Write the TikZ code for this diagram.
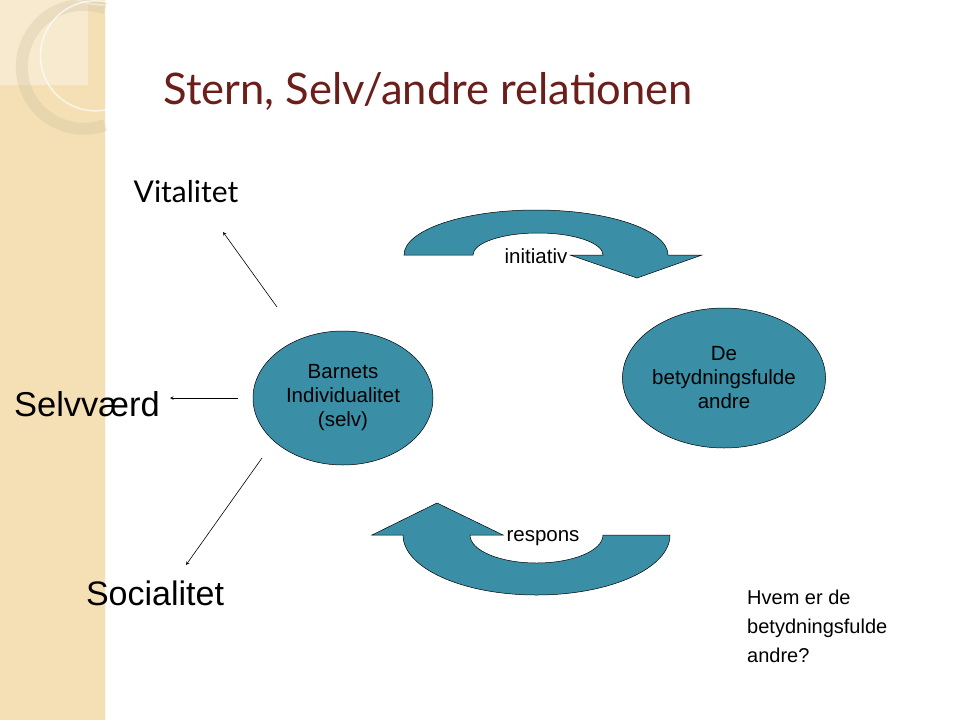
\documentclass[tikz,border=0pt]{standalone}
\usepackage{fontspec}
\usetikzlibrary{shapes.geometric}
\setmainfont{Liberation Sans}
\newfontfamily\gill{Lato}
\begin{document}
\begin{tikzpicture}[x=1pt,y=-1pt,
  blob/.style={fill=teal0,draw=black,line width=0.5pt},
  lbl/.style={font=\fontsize{20.5}{24}\selectfont},
  big/.style={font=\gill\fontsize{30}{34}\selectfont},
  arr/.style={->,>=stealth,line width=0.6pt}]
\definecolor{teal0}{HTML}{3A8FA6}
\definecolor{beige}{HTML}{F4E0B4}
\definecolor{titlered}{HTML}{6B1E1A}
\useasboundingbox (0,0) rectangle (960,720);
\fill[white] (0,0) rectangle (960,720);
\fill[beige] (0,0) rectangle (105,720);
\draw[white!80!beige,line width=1pt] (105,0) -- (105,720);
\fill[white,opacity=0.35] (0,0) rectangle (88,85);
\draw[white,line width=2pt,opacity=0.8] (105,5) arc[start angle=90,end angle=250,radius=78];
\draw[beige!70!gray,line width=12pt,opacity=0.35] (105,125) arc[start angle=70,end angle=290,radius=62];
\draw[white,line width=1.5pt,opacity=0.7] (105,110) arc[start angle=80,end angle=280,radius=55];
% title
\node[anchor=base west,text=titlered,font=\gill\fontsize{43.5}{50}\selectfont] (title) at (160,104) {Stern, Selv/andre relationen};
% ellipses
\node[blob,ellipse,minimum width=180,minimum height=134,inner sep=0,align=center,lbl] (selv) at (343,398)
 {Barnets\\Individualitet\\(selv)};
\node[blob,ellipse,minimum width=172,minimum height=140,inner sep=0,align=center,lbl] (andre) at (724,378)
 {De\\betydningsfulde\\andre};
% top arrow
\draw[blob] (404,255) arc[start angle=180,end angle=360,x radius=132,y radius=45]
  -- (702,255) -- (637,278) -- (570,255) -- (603,255)
  arc[start angle=360,end angle=180,x radius=65,y radius=22] -- cycle;
\node[lbl,anchor=base] (ini) at (536,263) {initiativ};
% bottom arrow
\draw[blob] (670,535) arc[start angle=0,end angle=180,x radius=133.5,y radius=60]
  -- (372,535) -- (437,503) -- (503,535) -- (470,535)
  arc[start angle=180,end angle=0,x radius=66.5,y radius=28] -- cycle;
\node[lbl,anchor=base] (resp) at (543,541) {respons};
% labels
\node[big,anchor=base] (vit) at (186,202) {Vitalitet};
\node[font=\fontsize{34.5}{38}\selectfont,anchor=base] (sv) at (87,416) {Selvværd};
\node[font=\fontsize{34}{38}\selectfont,anchor=base] (soc) at (155,605) {Socialitet};
\coordinate (a1) at (277,307); \coordinate (a1e) at (223,232);
\coordinate (a2) at (238,398); \coordinate (a2e) at (170,398);
\coordinate (a3) at (262,458); \coordinate (a3e) at (186,565);
\draw[arr] (a1) -- (a1e);
\draw[arr] (a2) -- (a2e);
\draw[arr] (a3) -- (a3e);
\node[anchor=north west,align=left,font=\fontsize{20}{29}\selectfont,inner sep=0] (q) at (747,590) {Hvem er de\\betydningsfulde\\andre?};
\end{tikzpicture}
\end{document}
